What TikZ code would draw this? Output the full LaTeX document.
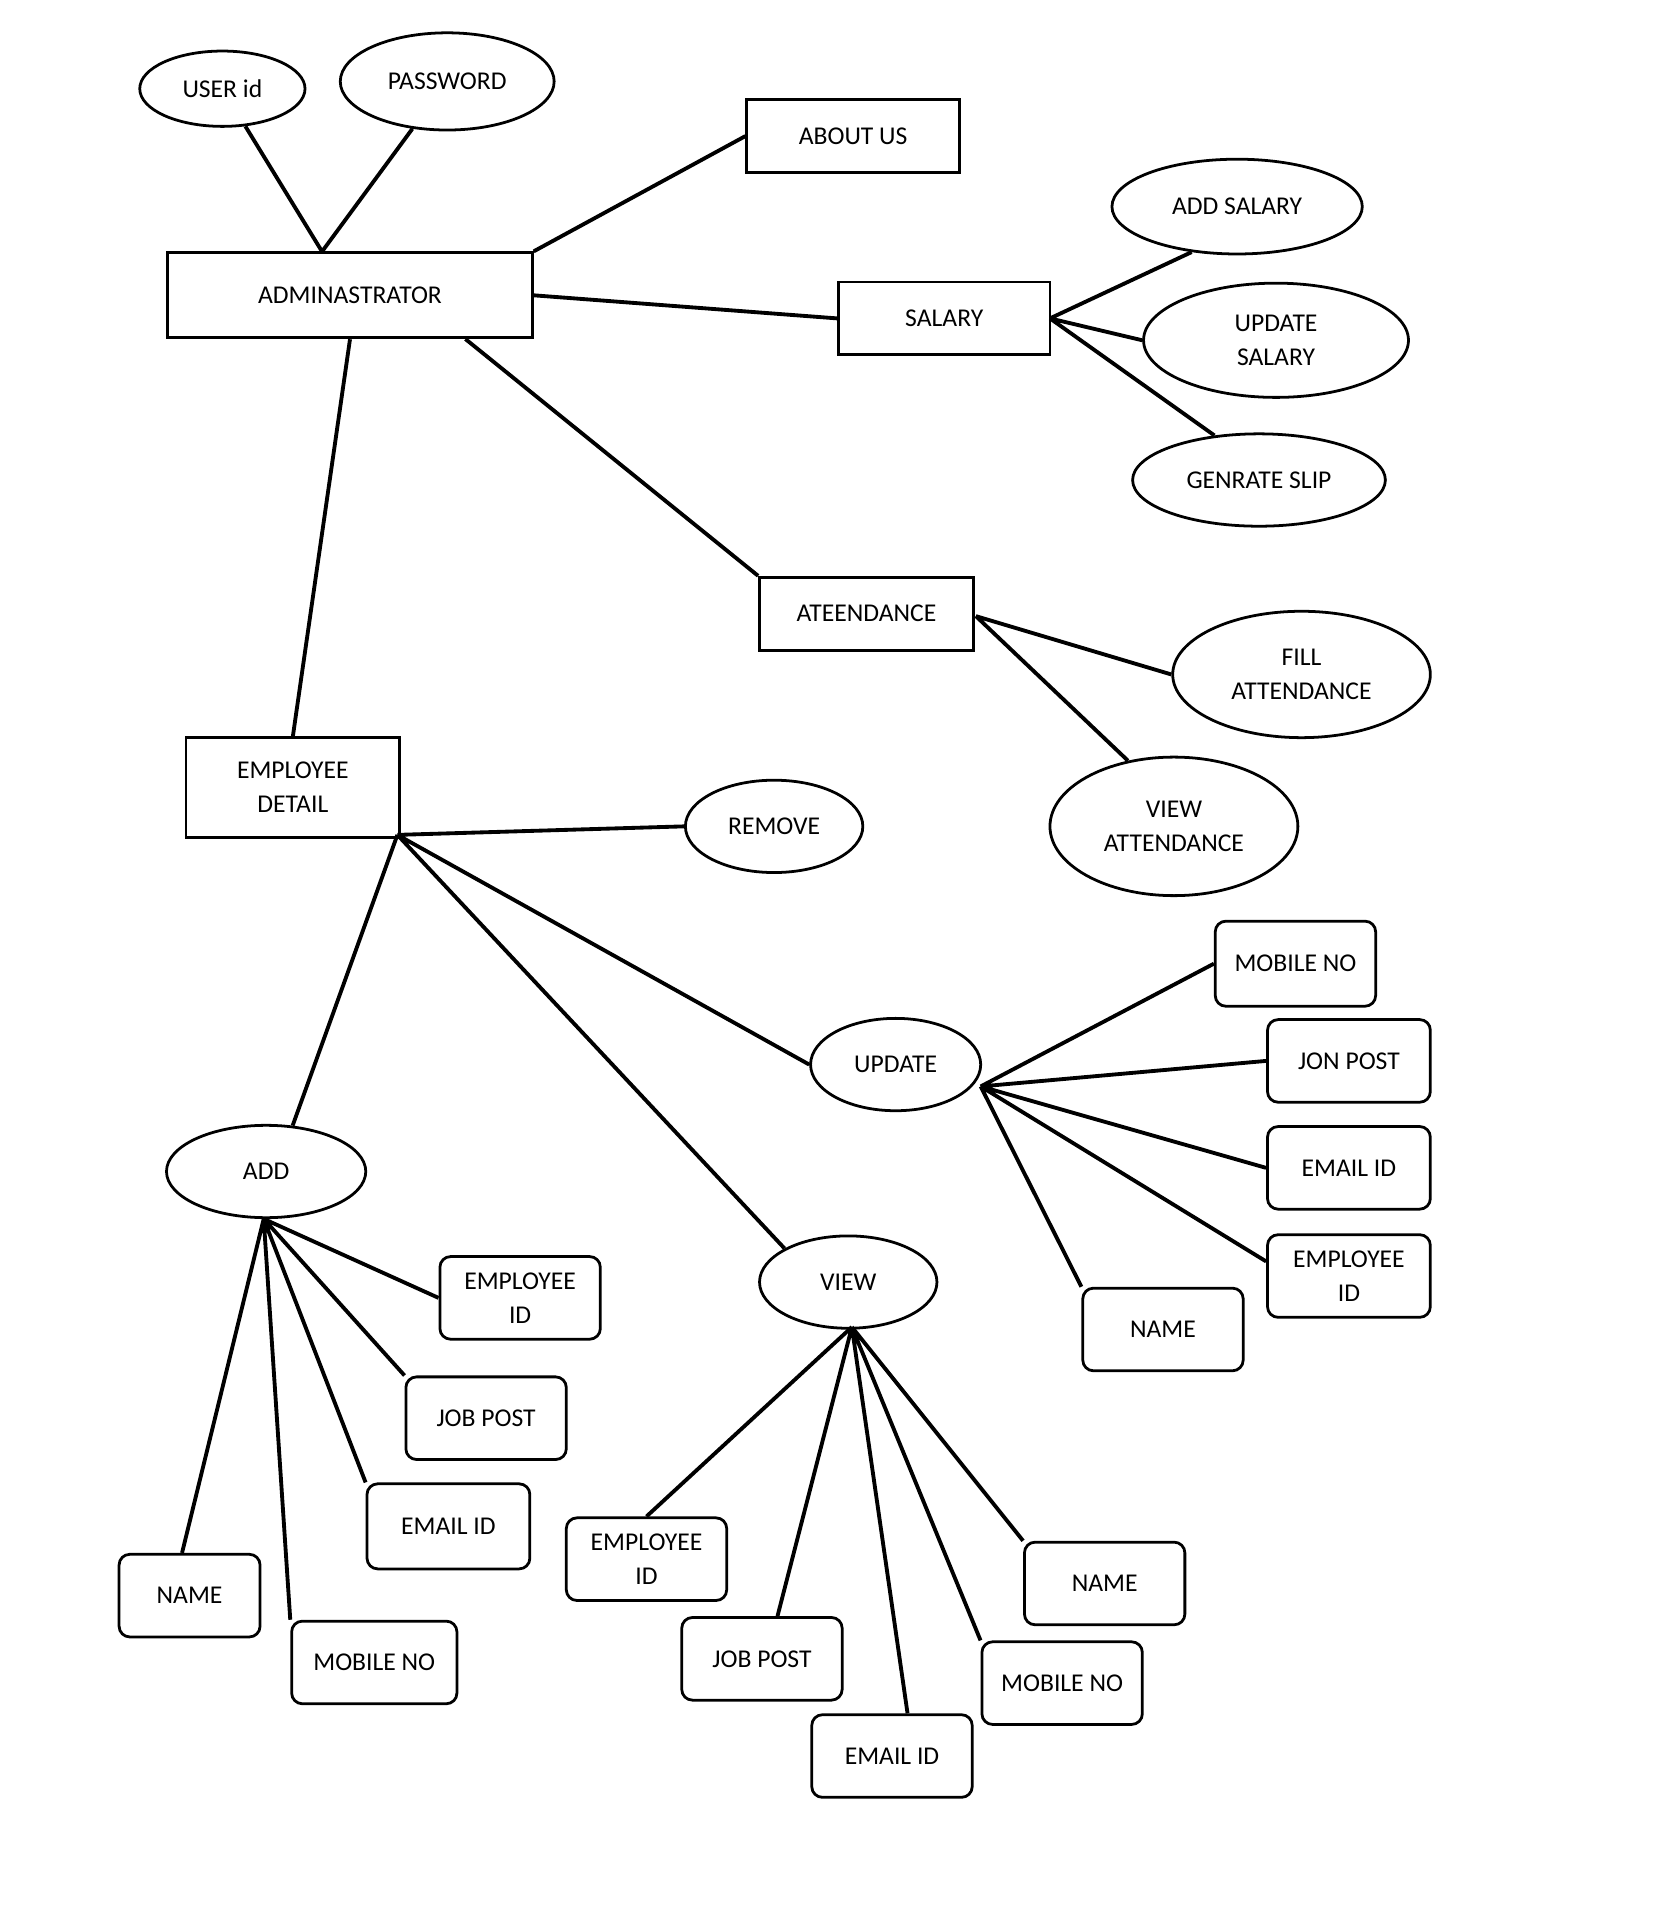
\documentclass[tikz,border=0pt]{standalone}
\usepackage{fontspec}
\setmainfont{Carlito}
\usetikzlibrary{shapes.geometric}
\begin{document}
\begin{tikzpicture}[x=0.02cm,y=-0.02cm,
 every node/.style={font=\fontsize{12}{16}\selectfont,align=center,line width=1.3pt,draw,inner sep=0pt},
 ent/.style={rectangle},
 att/.style={ellipse},
 rbox/.style={rectangle,rounded corners=5pt},
 lk/.style={line width=1.8pt}]
\useasboundingbox[fill=white] (0,0) rectangle (1360,1575);
\newcommand{\nd}[6]{\node[#1,minimum width=#4*0.02cm,minimum height=#5*0.02cm] (#2) at (#3) {#6};}
\nd{att}{uid}{183,73}{136}{62}{USER id}
\nd{att}{pw}{368,67}{176}{80}{PASSWORD}
\nd{ent}{about}{702,112}{175}{60}{ABOUT US}
\nd{ent}{admin}{288,243}{300}{70}{ADMINASTRATOR}
\nd{ent}{sal}{777,262}{174}{60}{SALARY}
\nd{att}{adds}{1018,170}{206}{78}{ADD SALARY}
\nd{att}{upds}{1050,280}{218}{94}{UPDATE\\SALARY}
\nd{att}{gen}{1036,395}{208}{76}{GENRATE SLIP}
\nd{ent}{att}{713,505}{176}{60}{ATEENDANCE}
\nd{att}{fill}{1071,555}{212}{104}{FILL\\ATTENDANCE}
\nd{att}{vatt}{966,680}{204}{114}{VIEW\\ATTENDANCE}
\nd{ent}{ed}{241,648}{176}{82}{EMPLOYEE\\DETAIL}
\nd{att}{rem}{637,680}{146}{76}{REMOVE}
\nd{att}{upd}{737,876}{140}{76}{UPDATE}
\nd{att}{add}{219,964}{164}{76}{ADD}
\nd{att}{view}{698,1055}{146}{76}{VIEW}
\nd{rbox}{umob}{1066,793}{132}{70}{MOBILE NO}
\nd{rbox}{ujob}{1110,873}{134}{68}{JON POST}
\nd{rbox}{uem}{1110,961}{134}{68}{EMAIL ID}
\nd{rbox}{uid2}{1110,1050}{134}{68}{EMPLOYEE\\ID}
\nd{rbox}{unam}{957,1094}{132}{68}{NAME}
\nd{rbox}{aid}{428,1068}{132}{68}{EMPLOYEE\\ID}
\nd{rbox}{ajob}{400,1167}{132}{68}{JOB POST}
\nd{rbox}{aem}{369,1256}{134}{70}{EMAIL ID}
\nd{rbox}{anam}{156,1313}{116}{68}{NAME}
\nd{rbox}{amob}{308,1368}{136}{68}{MOBILE NO}
\nd{rbox}{vid}{532,1283}{132}{68}{EMPLOYEE\\ID}
\nd{rbox}{vjob}{627,1365}{132}{68}{JOB POST}
\nd{rbox}{vem}{734,1445}{132}{68}{EMAIL ID}
\nd{rbox}{vmob}{874,1385}{132}{68}{MOBILE NO}
\nd{rbox}{vnam}{909,1303}{132}{68}{NAME}
\coordinate (at) at (265,207);
\coordinate (sh) at (864,262);
\coordinate (ah) at (803,507);
\coordinate (eh) at (327,687);
\coordinate (uh) at (807,894);
\coordinate (dh) at (217,1003);
\coordinate (vh) at (701,1092);
\draw[lk] (at) -- (uid) (at) -- (pw);
\draw[lk] (admin.north east) -- (about.west);
\draw[lk] (admin.east) -- (sal.west);
\draw[lk] (admin.south) -- (ed.north);
\draw[lk] (383,279) -- (att.north west);
\draw[lk] (sh) -- (adds.225) (sh) -- (upds.west) (sh) -- (gen.135);
\draw[lk] (ah) -- (fill.west) (ah) -- (vatt.125);
\draw[lk] (eh) -- (rem.west) (eh) -- (upd.west) (eh) -- (add.60) (eh) -- (view.north west);
\draw[lk] (uh) -- (umob.west) (uh) -- (ujob.west) (uh) -- (uem.west) (uh) -- (uid2.170) (uh) -- (unam.north west);
\draw[lk] (dh) -- (aid.west) (dh) -- (ajob.north west) (dh) -- (aem.north west) (dh) -- (anam.100) (dh) -- (amob.north west);
\draw[lk] (vh) -- (vid.north) (vh) -- (vjob.70) (vh) -- (vem.70) (vh) -- (vmob.north west) (vh) -- (vnam.north west);
\end{tikzpicture}
\end{document}
